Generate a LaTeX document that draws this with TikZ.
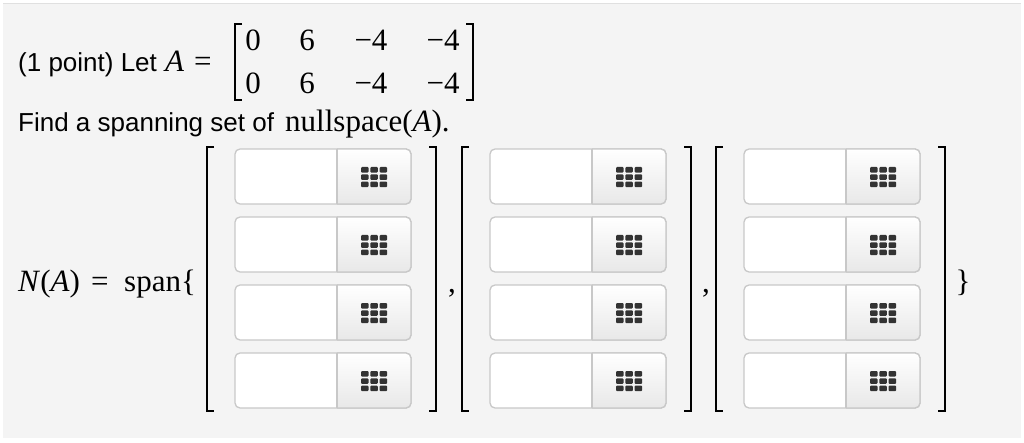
\documentclass[tikz,border=0pt]{standalone}
\usepackage{fontspec}
\setmainfont{Liberation Sans}
\newfontfamily\serif{Liberation Serif}
\definecolor{panel}{HTML}{F4F4F4}
\definecolor{edge}{HTML}{C8C8C8}
\definecolor{icon}{HTML}{333333}
\tikzset{
  inbox/.style={draw=edge, line width=1.3pt, rounded corners=5pt, fill=white},
  btn/.style={draw=edge, line width=1.3pt, rounded corners=5pt, top color=white, bottom color=black!9},
  brk/.style={line width=2pt, black},
  txt/.style={inner sep=0pt, anchor=base west, font=\fontsize{26}{30}\selectfont},
  mth/.style={inner sep=0pt, anchor=base, font=\serif\fontsize{31}{34}\selectfont}
}
\newcommand{\entry}[3]{% x, y, name
  \draw[inbox] (#1,#2) rectangle +(176,55);
  \begin{scope}
  \clip (#1+102,#2-2) rectangle +(80,60);
  \draw[btn] (#1,#2) rectangle +(176,55);
  \end{scope}
  \draw[edge, line width=1.3pt] (#1+102,#2) -- +(0,55);
  \foreach \i in {0,1,2}{\foreach \j in {0,1,2}{
    \fill[icon, rounded corners=1pt] (#1+126+\i*9.3,#2+18+\j*7.3) rectangle +(7.5,5.6);}}
  \coordinate (#3) at (#1,#2);
}
\begin{document}
\begin{tikzpicture}[x=1pt,y=-1pt]
\useasboundingbox (0,0) rectangle (1024,443);
\fill[white] (0,0) rectangle (1024,443);
\fill[panel] (3,4) rectangle (1021,438);
\draw[black!12, line width=1pt] (3,3.5) -- (1021,3.5);
\node[txt] (t1) at (18,72) {(1 point) Let};
\node[mth, anchor=base west] (t1b) at (165,72) {\textit{A}};
\node[mth, anchor=base west] (t1c) at (194,72) {=};
\draw[brk, line width=1.6pt] (242,24) -- (235,24) -- (235,100) -- (242,100);
\draw[brk, line width=1.6pt] (466,24) -- (473,24) -- (473,100) -- (466,100);
\foreach \x/\v in {253/0,307/6,371/{−4},443/{−4}}{
  \node[mth] at (\x,51) {\v};
  \node[mth] at (\x,94) {\v};}
\node[txt] (t2) at (18,132) {Find a spanning set of};
\node[mth, anchor=base west] (t2b) at (285,132) {nullspace(\textit{A}).};
\node[mth, anchor=base west] (na) at (18,291) {\textit{N}(\textit{A})};
\node[mth, anchor=base west] (nb) at (91,291) {=};
\node[mth, anchor=base west] (nc) at (124,291) {span\{};
\foreach \g/\gx in {0/235,1/490,2/744}{
  \foreach \r/\ry in {0/149,1/217,2/285,3/353}{\entry{\gx}{\ry}{e\g\r}}
  \draw[brk] (\gx-21,147) -- (\gx-28,147) -- (\gx-28,411) -- (\gx-21,411);
  \draw[brk] (\gx+194,147) -- (\gx+201,147) -- (\gx+201,411) -- (\gx+194,411);
}
\node[mth] at (452,293) {,};
\node[mth] at (706,293) {,};
\node[mth] at (963,291) {\}};
\end{tikzpicture}
\end{document}
